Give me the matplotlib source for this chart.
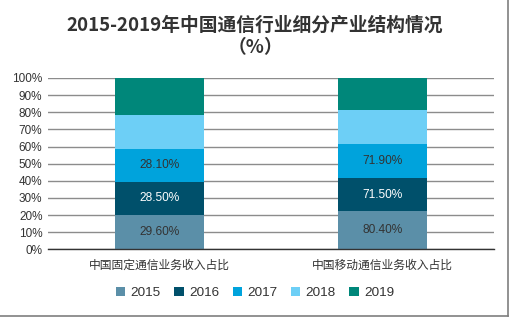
import matplotlib
matplotlib.use("Agg")
import matplotlib.pyplot as plt
import numpy as np
from matplotlib.lines import Line2D

plt.rcParams['font.family'] = ['Liberation Sans', 'Noto Sans CJK SC', 'DejaVu Sans']

categories = ['中国固定通信业务收入占比', '中国移动通信业务收入占比']
years = ['2015', '2016', '2017', '2018', '2019']
values = {
    '2015': [29.6, 80.4],
    '2016': [28.5, 71.5],
    '2017': [28.1, 71.9],
    '2018': [29.3, 72.0],
    '2019': [31.5, 68.0],
}
labeled_years = ['2015', '2016', '2017']
colors = ['#5B8FA8', '#00506B', '#00A3DC', '#6DCFF6', '#00877A']
label_colors = {'2015': '#333333', '2016': '#FFFFFF', '2017': '#333333'}

W, H = 510, 318
fig = plt.figure(figsize=(W/100, H/100), dpi=100)
ax = fig.add_axes([48/W, 1-249.3/H, (494-48)/W, (249.3-78)/H])

data = np.array([values[y] for y in years])
totals = data.sum(axis=0)
frac = data / totals
x = np.arange(len(categories))
bottom = np.zeros(len(categories))
for i, y in enumerate(years):
    ax.bar(x, frac[i], 0.4, bottom=bottom, color=colors[i], label=y, zorder=3)
    if y in labeled_years:
        for j in range(len(categories)):
            ax.text(x[j], bottom[j] + frac[i][j]/2, f'{values[y][j]:.2f}%',
                    ha='center', va='center', fontsize=8.6, color=label_colors[y], zorder=4)
    bottom += frac[i]

ax.set_xlim(-0.5, 1.5)
ax.set_ylim(0, 1)
ax.set_yticks(np.arange(0, 1.01, 0.1))
ax.set_yticklabels([f'{int(round(v*100))}%' for v in np.arange(0, 1.01, 0.1)], fontsize=8.5, color='#333333')
ax.set_xticks(x)
ax.set_xticklabels(categories, fontsize=8.5, color='#333333', family=['Noto Sans CJK SC', 'DejaVu Sans'])
ax.tick_params(axis='both', length=0)
ax.tick_params(axis='x', pad=7)
ax.tick_params(axis='y', pad=4)
ax.grid(axis='y', color='#8C8C8C', linewidth=1, zorder=0)
for s in ['top', 'right', 'left']:
    ax.spines[s].set_visible(False)
ax.spines['bottom'].set_color('#333333')
ax.spines['bottom'].set_linewidth(1)
ax.spines['bottom'].set_zorder(5)

fig.text(0.5, 1-25/H, '2015-2019年中国通信行业细分产业结构情况', ha='center', va='center',
         fontsize=13.5, fontweight='bold', color='#333333', family=['Noto Sans CJK SC', 'DejaVu Sans'])
fig.text(0.5, 1-48/H, '（%）', ha='center', va='center',
         fontsize=13.5, fontweight='bold', color='#333333', family=['Noto Sans CJK SC', 'DejaVu Sans'])

leg = fig.legend(loc='center', bbox_to_anchor=(0.5, 1-293/H), ncol=5, frameon=False,
                 fontsize=9.7, handlelength=0.7, handleheight=0.7, columnspacing=1.0, handletextpad=0.4)
for t in leg.get_texts():
    t.set_color('#333333')

# image frame on right and bottom
fig.add_artist(Line2D([508.5/W, 508.5/W], [1-315.5/H, 1], transform=fig.transFigure,
                      color='#7F7F7F', linewidth=1.2))
fig.add_artist(Line2D([0, 508.5/W], [1-315.5/H, 1-315.5/H], transform=fig.transFigure,
                      color='#7F7F7F', linewidth=1.2))

fig.savefig('out.png', dpi=100)
